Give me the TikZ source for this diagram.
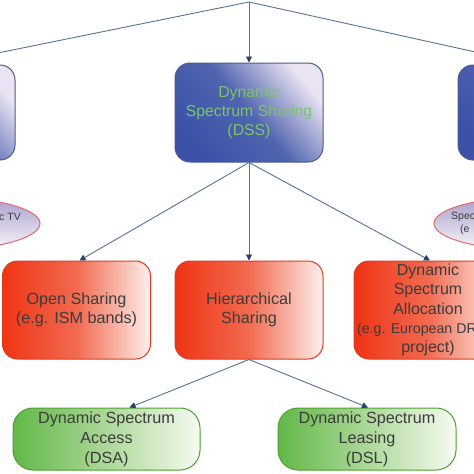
\documentclass[tikz,border=0pt]{standalone}
\usepackage{fontspec}
\setmainfont{Liberation Sans}
\usetikzlibrary{arrows.meta}
\definecolor{dssblue}{HTML}{3B52A6}
\definecolor{lavlight}{HTML}{EAE4F2}
\definecolor{blueedge}{HTML}{4A5C90}
\definecolor{dssgreen}{HTML}{7CC46A}
\definecolor{redL}{HTML}{EF3414}
\definecolor{redM}{HTML}{F26A50}
\definecolor{redR}{HTML}{FDF0EC}
\definecolor{rededge}{HTML}{E23A22}
\definecolor{grnL}{HTML}{62B848}
\definecolor{grnM}{HTML}{ACD898}
\definecolor{grnR}{HTML}{F6FAF2}
\definecolor{grnedge}{HTML}{4EA030}
\definecolor{linecol}{HTML}{56739C}
\definecolor{tipcol}{HTML}{27416E}
\definecolor{txt}{HTML}{3C3C3C}
\definecolor{lavdark}{HTML}{A99DCB}
\definecolor{elledge}{HTML}{E06A70}
\begin{document}
\begin{tikzpicture}[x=1pt,y=-1pt,
  bluebox/.style={draw=blueedge, line width=1pt, rounded corners=15pt,
    shading=axis, bottom color=dssblue, top color=lavlight, middle color=dssblue!88!lavlight,
    shading angle=-50, minimum width=148pt, align=center,
    text=dssgreen, font=\fontsize{15.8}{19}\selectfont, inner sep=0pt},
  redbox/.style={draw=rededge, line width=1pt, rounded corners=15pt,
    shading=axis, left color=redL, right color=redR, middle color=redM,
    minimum width=148pt, minimum height=98pt, align=center,
    text=txt, font=\fontsize{16.2}{19.5}\selectfont, inner sep=0pt},
  grnbox/.style={draw=grnedge, line width=1pt, rounded corners=20pt,
    shading=axis, left color=grnL, right color=grnR, middle color=grnM,
    minimum height=62pt, align=center,
    text=txt, font=\fontsize{16.2}{20}\selectfont, inner sep=0pt},
  elltxt/.style={text=txt, font=\fontsize{10.5}{13}\selectfont, inner sep=0pt},
  conn/.style={draw=linecol, line width=0.9pt},
  arr/.style={conn, -{Triangle[length=6pt,width=6pt,fill=tipcol,color=tipcol]}}
]
\clip (0,0) rectangle (474,474);
\fill[white] (0,0) rectangle (474,474);

% side ellipses
\shade[draw=elledge, line width=1pt, top color=lavdark, bottom color=white!92!lavdark]
  (-59,223.5) ellipse [x radius=99pt, y radius=26.5pt];
\shade[draw=elledge, line width=1pt, top color=lavdark, bottom color=white!92!lavdark]
  (532,223.5) ellipse [x radius=98pt, y radius=26.5pt];
\node[elltxt, anchor=east] (lelltxt) at (21,217) {c TV};
\node[elltxt, anchor=west, align=left] (relltxt) at (451,223.5) {Spec\\\hspace*{9pt}(e};

% top level
\coordinate (apex) at (249,2);
\node[bluebox, minimum height=99pt] (dss) at (249,112.5)
  {Dynamic\\Spectrum Sharing\\(DSS)};
\node[bluebox, minimum height=95pt] (lblue) at (-59,112.5) {};
\node[bluebox, minimum height=95pt] (rblue) at (532,112.5) {};

% second level
\node[redbox] (open) at (76.5,310) {Open Sharing\\(e.g. ISM bands)};
\node[redbox] (hier) at (249,310) {Hierarchical\\Sharing};
\node[redbox, font=\fontsize{16}{19.3}\selectfont] (dsa) at (428,310)
  {Dynamic\\Spectrum\\Allocation\\\makebox[0pt][c]{\fontsize{14.2}{19.3}\selectfont(e.g. European DRiVE}\\project)};

% third level
\node[grnbox, minimum width=187pt] (acc) at (106.5,439) {Dynamic Spectrum\\Access\\(DSA)};
\node[grnbox, minimum width=178pt] (lea) at (367,439) {Dynamic Spectrum\\Leasing\\(DSL)};

% connectors
\draw[arr] (apex) -- (dss.north);
\draw[arr] (apex) -- (lblue.north);
\draw[arr] (apex) -- (rblue.north);
\draw[arr] (dss.south) -- ([xshift=3pt]open.north);
\draw[arr] (dss.south) -- (hier.north);
\draw[arr] (dss.south) -- ([xshift=2pt]dsa.north);
\draw[arr] (hier.south) -- ([xshift=23pt]acc.north);
\draw[arr] (hier.south) -- ([xshift=1pt]lea.north);
\end{tikzpicture}
\end{document}
